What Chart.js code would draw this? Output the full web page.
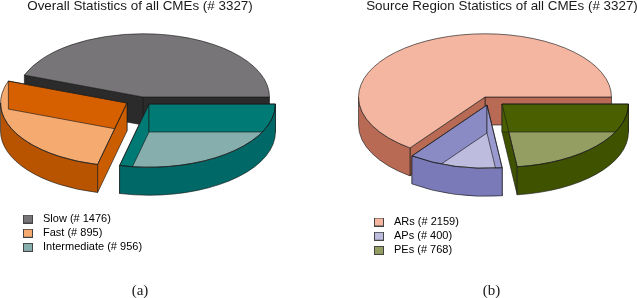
<!DOCTYPE html>
<html>
<head>
<meta charset="utf-8">
<script src="https://cdn.jsdelivr.net/npm/chart.js@4/dist/chart.umd.min.js"></script>
<style>
html,body{margin:0;padding:0;background:#fff;overflow:hidden}
canvas{position:absolute;top:0}
</style>
</head>
<body>
<canvas id="a" width="318" height="298" style="left:0"></canvas>
<canvas id="b" width="319" height="298" style="left:318px"></canvas>
<script>
const titleA = 'Overall Statistics of all CMEs (# 3327)';
const categoriesA = ['Slow', 'Fast', 'Intermediate'];
const valuesA = [1476, 895, 956];
const captionA = '(a)';

const titleB = 'Source Region Statistics of all CMEs (# 3327)';
const categoriesB = ['ARs', 'APs', 'PEs'];
const valuesB = [2159, 400, 768];
const captionB = '(b)';

const faceColorsA = ['#777577', '#f5aa70', '#85aead'];
const wallColorsA = [['#2b2b2b', '#2b2b2b', '#2b2b2b'], ['#d66000', '#c95d00', '#b85400'], ['#007a74', '#007a74', '#006866']];
const faceColorsB = ['#f4b6a1', '#bdbcdf', '#949e62'];
const wallColorsB = [['#b96a55', '#b96a55', '#b96a55'], ['#8a8ac4', '#9a9ad0', '#7b7ab8'], ['#3f5200', '#4a6000', '#3f5200']];
const explodeA = [[0, 0], [-16, 6], [6, 7]];
const explodeB = [[0, 0], [2, 8], [17, 7]];

const DEPTH = 28, SQUASH = 0.5, CY = 97, EDGE = 'rgba(25,25,25,0.85)', LEGEND_PAD = 3.2;

function swatch(color) {
  const c = document.createElement('canvas');
  c.width = 10; c.height = 9;
  const x = c.getContext('2d');
  x.fillStyle = color; x.fillRect(0.5, 0.5, 9, 8);
  x.strokeStyle = '#444'; x.lineWidth = 1; x.strokeRect(0.5, 0.5, 9, 8);
  return c;
}

function drawPie(chart, cfg) {
  const ctx = chart.ctx;
  const arcs = chart.getDatasetMeta(0).data;
  arcs.forEach((arc, i) => {
    const [dx, dy] = cfg.explode[i];
    const cx = arc.x + dx, cy = CY + dy;
    const r = arc.outerRadius, ry = r * SQUASH;
    const rim = th => [cx + r * Math.cos(th), cy - ry * Math.sin(th)];
    const top = () => {
      ctx.save();
      ctx.translate(dx, cy);
      ctx.scale(1, -SQUASH);
      ctx.translate(0, -arc.y);
      arc.draw(ctx);
      ctx.restore();
    };
    const paint = color => {
      ctx.fillStyle = color; ctx.strokeStyle = EDGE; ctx.lineWidth = 0.75; ctx.lineJoin = 'round';
      ctx.fill(); ctx.stroke();
    };
    const radial = (th, color) => {
      const [x, y] = rim(th);
      ctx.beginPath();
      ctx.moveTo(cx, cy); ctx.lineTo(x, y); ctx.lineTo(x, y + DEPTH); ctx.lineTo(cx, cy + DEPTH);
      ctx.closePath(); paint(color);
    };
    const outer = color => {
      const a = Math.max(arc.startAngle, Math.PI), b = Math.min(arc.endAngle, 2 * Math.PI);
      if (b <= a) return;
      ctx.beginPath();
      ctx.ellipse(cx, cy, r, ry, 0, -a, -b, true);
      ctx.ellipse(cx, cy + DEPTH, r, ry, 0, -b, -a, false);
      ctx.closePath(); paint(color);
    };
    const [startCol, endCol, outerCol] = cfg.walls[i];
    const closed = i === 0;
    if (!closed) top();
    radial(arc.startAngle, startCol);
    radial(arc.endAngle, endCol);
    outer(outerCol);
    if (closed) top();
    ctx.beginPath();
    ctx.moveTo(cx, cy);
    ctx.ellipse(cx, cy, r, ry, 0, -arc.startAngle, -arc.endAngle, true);
    ctx.closePath();
    ctx.strokeStyle = EDGE; ctx.lineWidth = 0.75; ctx.lineJoin = 'round'; ctx.stroke();
  });
}

function makeChart(id, cfg) {
  new Chart(document.getElementById(id), {
    type: 'pie',
    data: {
      labels: cfg.categories,
      datasets: [{ data: cfg.values, backgroundColor: cfg.faces, borderWidth: 0 }]
    },
    options: {
      responsive: false,
      animation: false,
      rotation: 90,
      layout: { padding: cfg.padding },
      events: [],
      plugins: {
        tooltip: { enabled: false },
        title: {
          display: true, text: cfg.title, color: '#1a1a1a', padding: 0,
          font: { family: '"Liberation Sans"', size: 13.4, weight: 'normal' }
        },
        subtitle: {
          display: true, position: 'bottom', text: cfg.caption, color: '#1a1a1a', padding: 0,
          font: { family: '"Liberation Serif"', size: 15, weight: 'normal' }
        },
        legend: {
          position: 'chartArea', align: 'start',
          labels: {
            usePointStyle: true, pointStyleWidth: 19, boxHeight: 8, padding: LEGEND_PAD, color: '#1a1a1a',
            font: { family: '"Liberation Sans"', size: 11 },
            generateLabels: () => cfg.categories.map((c, i) => ({
              text: c + ' (# ' + cfg.values[i] + ')',
              pointStyle: swatch(cfg.faces[i]),
              fillStyle: cfg.faces[i],
              strokeStyle: '#444',
              lineWidth: 0,
              index: i
            }))
          }
        }
      }
    },
    plugins: [{
      id: 'pie3d',
      afterLayout(chart) {
        const tb = chart.titleBlock;
        tb.left = cfg.titleX - 160; tb.right = cfg.titleX + 160; tb.top = -2;
        tb.bottom = tb.top + tb.height;
        const lg = chart.legend;
        lg.left = cfg.legendX - LEGEND_PAD; lg.top = cfg.legendY - LEGEND_PAD; lg.right = lg.left + lg.width; lg.bottom = 298;
        const sub = chart.boxes.find(b => b.options && b.options.text === cfg.caption);
        if (sub) { sub.left = cfg.captionX - 50; sub.right = cfg.captionX + 50; sub.top = 282; sub.bottom = 298; }
      },
      beforeDatasetsDraw(chart) {
        drawPie(chart, cfg);
        return false;
      }
    }]
  });
}

makeChart('a', {
  title: titleA, caption: captionA, categories: categoriesA, values: valuesA,
  faces: faceColorsA, walls: wallColorsA, explode: explodeA,
  padding: { left: 15.5, right: 47.5, top: 0, bottom: 11 },
  titleX: 140, captionX: 140, legendX: 18.5, legendY: 213.5
});
makeChart('b', {
  title: titleB, caption: captionB, categories: categoriesB, values: valuesB,
  faces: faceColorsB, walls: wallColorsB, explode: explodeB,
  padding: { left: 39.5, right: 24.5, top: 0, bottom: 11 },
  titleX: 184, captionX: 173.5, legendX: 51.5, legendY: 216.5
});
</script>
</body>
</html>
